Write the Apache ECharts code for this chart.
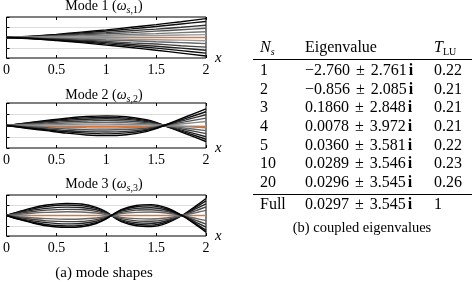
<!DOCTYPE html>
<html>
<head>
<meta charset="utf-8">
<script src="https://cdn.jsdelivr.net/npm/echarts@6/dist/echarts.min.js"></script>
<style>
  html, body { margin: 0; padding: 0; background: #fff; }
  #chart { width: 474px; height: 282px; }
</style>
</head>
<body>
<div id="chart"></div>
<script>
// ---- data ----
const xTicks = [0, 0.5, 1, 1.5, 2];

const mode1X = [0, 0.25, 0.5, 0.75, 1, 1.25, 1.5, 1.75, 2];
const mode1Lines = [
  [0, .06, .15, .26, .37, .50, .63, .77, .92],
  [0, .05, .13, .22, .32, .42, .54, .66, .78],
  [0, .04, .10, .17, .24, .33, .41, .50, .60],
  [0, .03, .07, .13, .18, .24, .31, .38, .45],
  [0, .02, .05, .08, .11, .15, .19, .24, .28],
  [0, .01, .02, .04, .06, .08, .10, .12, .14],
  [0, 0, 0, 0, 0, 0, 0, 0, 0],
  [0, -.01, -.03, -.04, -.06, -.09, -.11, -.13, -.16],
  [0, -.02, -.05, -.08, -.12, -.16, -.21, -.25, -.30],
  [0, -.03, -.08, -.13, -.19, -.26, -.32, -.40, -.47],
  [0, -.04, -.10, -.17, -.25, -.34, -.43, -.52, -.62],
  [0, -.05, -.13, -.21, -.31, -.41, -.52, -.64, -.76],
  [0, -.06, -.15, -.25, -.37, -.49, -.62, -.76, -.90]
];

const mode2X = [0, 0.2, 0.4, 0.6, 0.8, 1.0, 1.2, 1.4, 1.5, 1.58, 1.8, 2.0];
const mode2Lines = [
  [0, .11, .22, .32, .40, .43, .39, .26, .14, 0, -.37, -.71],
  [0, .10, .19, .28, .34, .37, .33, .22, .12, 0, -.32, -.61],
  [0, .08, .16, .23, .28, .30, .27, .18, .10, 0, -.26, -.50],
  [0, .06, .11, .17, .20, .22, .20, .13, .07, 0, -.19, -.36],
  [0, .04, .07, .11, .13, .14, .13, .08, .04, 0, -.12, -.23],
  [0, .02, .03, .05, .06, .06, .05, .04, .02, 0, -.05, -.10],
  [0, -.02, -.03, -.03, -.03, -.03, -.03, -.03, -.03, -.03, -.04, -.05],
  [0, -.03, -.06, -.08, -.10, -.11, -.10, -.07, -.04, 0, .09, .18],
  [0, -.05, -.10, -.15, -.19, -.20, -.18, -.12, -.06, 0, .17, .33],
  [0, -.08, -.15, -.22, -.27, -.29, -.26, -.17, -.09, 0, .25, .48],
  [0, -.10, -.19, -.28, -.34, -.37, -.33, -.22, -.12, 0, .32, .61],
  [0, -.12, -.23, -.34, -.42, -.45, -.41, -.27, -.14, 0, .39, .74]
];

const mode3X = [0, 0.125, 0.25, 0.4, 0.6, 0.75, 0.9, 1.0, 1.05, 1.15, 1.3, 1.45, 1.6, 1.76, 1.9, 2.0];
const mode3Lines = [
  [0, .19, .36, .51, .59, .56, .40, .18, 0, -.30, -.50, -.54, -.38, 0, .47, .83],
  [0, .17, .31, .44, .51, .48, .35, .15, 0, -.26, -.43, -.47, -.33, 0, .41, .71],
  [0, .14, .25, .35, .41, .39, .28, .12, 0, -.21, -.35, -.38, -.27, 0, .33, .57],
  [0, .10, .18, .26, .30, .29, .20, .09, 0, -.15, -.26, -.28, -.20, 0, .24, .42],
  [0, .06, .11, .15, .18, .17, .12, .05, 0, -.09, -.15, -.17, -.12, 0, .14, .25],
  [0, 0, 0, 0, 0, 0, 0, 0, 0, 0, 0, 0, 0, 0, 0, 0],
  [0, -.06, -.11, -.15, -.18, -.17, -.12, -.05, 0, .09, .15, .17, .12, 0, -.14, -.25],
  [0, -.10, -.18, -.26, -.30, -.29, -.20, -.09, 0, .15, .26, .28, .20, 0, -.24, -.42],
  [0, -.14, -.25, -.35, -.41, -.39, -.28, -.12, 0, .21, .35, .38, .27, 0, -.33, -.57],
  [0, -.17, -.31, -.44, -.51, -.48, -.35, -.15, 0, .26, .43, .47, .33, 0, -.41, -.71],
  [0, -.19, -.35, -.50, -.58, -.55, -.39, -.17, 0, .29, .49, .53, .38, 0, -.46, -.81]
];

// table (b)
const nsLabels = ['1', '2', '3', '4', '5', '10', '20', 'Full'];
const eigReal = ['−2.760', '−0.856', '0.1860', '0.0078', '0.0360', '0.0289', '0.0296', '0.0297'];
const eigImag = ['2.761', '2.085', '2.848', '3.972', '3.581', '3.546', '3.545', '3.545'];
const tLU = ['0.22', '0.21', '0.21', '0.21', '0.22', '0.23', '0.26', '1'];

// ---- styles ----
const SERIF = '"Liberation Serif", "DejaVu Serif", serif';
const ORANGE = '#d9773f';
const mode1Colors = ['#000', '#111', '#333', '#555', '#777', '#999', ORANGE, '#999', '#666', '#444', '#222', '#111', '#000'];
const mode2Colors = ['#000', '#111', '#222', '#444', '#666', '#888', ORANGE, '#888', '#555', '#333', '#111', '#000'];
const mode3Colors = ['#000', '#111', '#222', '#444', '#666', ORANGE, '#666', '#444', '#222', '#111', '#000'];

const modes = [
  { x: mode1X, lines: mode1Lines, colors: mode1Colors },
  { x: mode2X, lines: mode2Lines, colors: mode2Colors },
  { x: mode3X, lines: mode3Lines, colors: mode3Colors }
];

const grids = [
  { left: 3, top: 17, width: 203, height: 41 },
  { left: 3, top: 103, width: 203, height: 45 },
  { left: 3, top: 195, width: 203, height: 41 }
].map(g => Object.assign(g, { show: true, borderColor: '#000', borderWidth: 1 }));

const xAxes = [];
const yAxes = [];
grids.forEach((g, i) => {
  xAxes.push({
    type: 'value', gridIndex: i, min: 0, max: 2, interval: 0.5,
    axisLine: { show: false, onZero: false },
    axisTick: { inside: true, length: 3, lineStyle: { color: '#000' } },
    axisLabel: {
      margin: 5, color: '#000', fontFamily: SERIF, fontSize: 14,
      customValues: xTicks
    },
    splitLine: { show: false },
    name: 'x', nameLocation: 'end', nameGap: 9,
    nameTextStyle: { fontFamily: SERIF, fontStyle: 'italic', fontSize: 15, color: '#000', padding: [6, 0, 0, 0] }
  });
  yAxes.push({
    type: 'value', gridIndex: i, min: -1, max: 1, interval: 0.5,
    axisLine: { show: false, onZero: false },
    axisLabel: { show: false },
    axisTick: { inside: true, length: 3, lineStyle: { color: '#000' } },
    splitLine: { show: true, showMinLine: false, showMaxLine: false, lineStyle: { type: 'dotted', color: '#bbb', width: 1 } }
  });
});
// top ticks
grids.forEach((g, i) => {
  xAxes.push({
    type: 'value', gridIndex: i, position: 'top', min: 0, max: 2, interval: 0.5,
    axisLine: { show: false, onZero: false },
    axisTick: { inside: true, length: 3, lineStyle: { color: '#000' } },
    axisLabel: { show: false },
    splitLine: { show: false }
  });
});

const series = [];
modes.forEach((m, gi) => {
  m.lines.forEach((ys, li) => {
    const isOrange = m.colors[li] === ORANGE;
    series.push({
      type: 'line', xAxisIndex: gi, yAxisIndex: gi,
      data: m.x.map((x, k) => [x, ys[k]]),
      showSymbol: false, smooth: 0.3, silent: true,
      z: isOrange ? 1 : 2,
      lineStyle: { color: m.colors[li], width: 1.4 }
    });
  });
});

// ---- texts ----
const sub = { fontFamily: SERIF, fontSize: 10, fontStyle: 'italic', fill: '#000', verticalAlign: 'bottom', lineHeight: 10 };
const subUp = { fontFamily: SERIF, fontSize: 10, fill: '#000', verticalAlign: 'bottom', lineHeight: 10 };
const it = { fontFamily: SERIF, fontSize: 16, fontStyle: 'italic', fill: '#000', lineHeight: 18 };

function txt(x, y, text, size, align, rich) {
  return {
    type: 'text', x: x, y: y, silent: true,
    style: {
      text: text, fill: '#000', fontFamily: SERIF, fontSize: size, lineHeight: 18,
      textAlign: align, textVerticalAlign: 'middle', rich: rich || {}
    }
  };
}

const titleRich = {
  w: { fontFamily: SERIF, fontSize: 14, fontStyle: 'italic', fill: '#000', lineHeight: 18 },
  s: sub, r: subUp
};
const graphics = [
  txt(104, 6, 'Mode 1 ({w|ω}{s|s}{r|,1})', 14, 'center', titleRich),
  txt(104, 95, 'Mode 2 ({w|ω}{s|s}{r|,2})', 14, 'center', titleRich),
  txt(104, 184, 'Mode 3 ({w|ω}{s|s}{r|,3})', 14, 'center', titleRich),
  txt(104, 273, '(a) mode shapes', 15, 'center'),
  txt(362, 228, '(b) coupled eigenvalues', 14.5, 'center')
];

const colX = [260, 305, 434];
const headY = 48;
graphics.push(txt(colX[0], headY, '{it|N}{s|s}', 16, 'left', { it: it, s: sub }));
graphics.push(txt(colX[1], headY, 'Eigenvalue', 16, 'left'));
graphics.push(txt(colX[2], headY, '{it|T}{r|LU}', 16, 'left', { it: it, r: subUp }));

const eigRich = {
  pm: { fontFamily: SERIF, fontSize: 16, fill: '#000', padding: [0, 2, 0, 2], lineHeight: 18 },
  b: { fontFamily: SERIF, fontSize: 16, fontWeight: 'bold', fill: '#000', padding: [0, 0, 0, 2], lineHeight: 18 }
};
nsLabels.forEach((ns, i) => {
  const y = i < 7 ? 71 + 18.6 * i : 205;
  graphics.push(txt(colX[0], y, ns, 16, 'left'));
  graphics.push(txt(colX[1], y, eigReal[i] + ' {pm|±} ' + eigImag[i] + '{b|i}', 16, 'left', eigRich));
  graphics.push(txt(colX[2], y, tLU[i], 16, 'left'));
});
graphics.push({ type: 'line', silent: true, shape: { x1: 253, y1: 59.5, x2: 472, y2: 59.5 }, style: { stroke: '#000', lineWidth: 1.2 } });
graphics.push({ type: 'line', silent: true, shape: { x1: 253, y1: 194.5, x2: 472, y2: 194.5 }, style: { stroke: '#000', lineWidth: 1.2 } });

const chart = echarts.init(document.getElementById('chart'));
chart.setOption({
  animation: false,
  backgroundColor: '#fff',
  grid: grids,
  xAxis: xAxes,
  yAxis: yAxes,
  series: series,
  graphic: graphics
});
</script>
</body>
</html>
